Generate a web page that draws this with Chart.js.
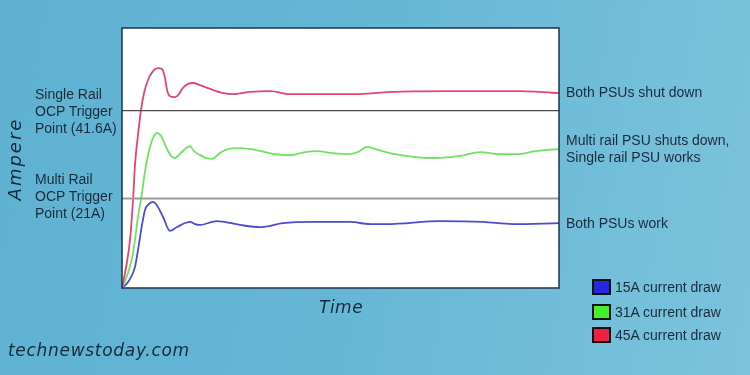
<!DOCTYPE html>
<html><head><meta charset="utf-8">
<script src="https://cdn.jsdelivr.net/npm/chart.js@4/dist/chart.umd.min.js"></script>
<style>
html,body{margin:0;padding:0;}
body{width:750px;height:375px;overflow:hidden;position:relative;
 background:linear-gradient(100deg,#5fb1d2 0%,#66b7d6 50%,#7cc3dc 100%);}
#wrap{position:absolute;left:0;top:0;width:750px;height:375px;}
.lbl{position:absolute;font-family:"Liberation Sans",Arial,sans-serif;font-size:14px;color:#1b2b3a;line-height:17px;white-space:nowrap;}
.it{position:absolute;font-family:"DejaVu Sans",sans-serif;font-style:italic;color:#17293a;white-space:nowrap;line-height:20px;}
.leg{position:absolute;left:592px;font-family:"Liberation Sans",Arial,sans-serif;font-size:14px;color:#1b2b3a;white-space:nowrap;}
.leg span.box{position:absolute;left:0;top:0;width:15px;height:12px;border:2px solid #111;}
.leg span.t{position:absolute;left:23px;top:0px;line-height:16px;}
</style></head>
<body>
<div id="wrap"><canvas id="c" width="750" height="375"></canvas></div>
<script>
// Time (0-100, arbitrary) and current (A)
const redT   = [0,1.14,1.83,2.52,2.97,3.66,4.35,5.03,5.95,7.09,8.24,9.15,9.84,10.3,10.98,12.13,13.04,13.73,15.1,16.25,17.85,20.14,22.88,25.86,29.29,33.87,38.44,45.31,54.46,61.33,75.06,91.08,95.65,100];
const redA   = [0,6.1,11.3,20.6,28.9,35.9,41.8,45.7,48.8,50.9,51.6,51.4,49.3,46.5,45.0,44.8,45.5,46.7,47.9,48.1,47.6,46.7,45.8,45.5,46.0,46.2,45.5,45.5,45.5,46.0,46.2,46.2,46.0,45.7];
const greenT = [0,1.37,2.29,2.97,3.66,4.58,5.03,5.72,6.41,7.32,8.01,8.92,10.07,11.21,12.13,13.5,14.65,15.56,16.48,17.85,19.22,20.59,22.43,24.26,27.0,30.43,35.01,38.9,41.88,44.85,47.6,51.72,54.0,56.06,58.58,62.47,67.05,71.62,77.35,81.92,86.5,90.39,94.51,100];
const greenA = [0,3.5,7.0,11.3,16.7,22.3,25.8,30.0,33.1,35.7,36.4,35.7,33.1,31.0,30.5,31.7,32.8,33.3,32.1,31.2,30.5,30.3,31.7,32.6,32.8,32.4,31.4,31.2,31.9,32.1,31.7,31.4,31.9,33.1,32.4,31.4,30.7,30.5,31.0,31.9,31.4,31.4,32.1,32.6];
const blueT  = [0,1.37,2.97,3.66,4.58,5.26,5.95,7.09,7.78,9.38,10.98,12.59,15.56,16.7,17.85,21.74,27.0,31.58,36.84,43.02,52.17,56.75,60.64,72.77,82.61,89.47,100];
const blueA  = [0,1.4,4.9,8.9,14.8,18.3,19.5,20.2,19.7,16.7,13.4,14.3,15.5,15.0,14.8,15.7,14.8,14.3,15.2,15.5,15.5,15.0,15.0,15.7,15.5,15.0,15.2];
const seriesNames = ["15A current draw","31A current draw","45A current draw"];
const legendColors = ["#2626e6","#44ef2c","#ef2040"];
const lineColors = ["#4b4bd2","#6ee35e","#e2456d"];
const singleRailOCP = 41.6;
const multiRailOCP = 21;
const leftLabels = [["Single Rail","OCP Trigger","Point (41.6A)"],["Multi Rail","OCP Trigger","Point (21A)"]];
const rightLabels = [["Both PSUs shut down"],["Multi rail PSU shuts down,","Single rail PSU works"],["Both PSUs work"]];

function pts(t,a){return t.map((x,i)=>({x:x,y:a[i]}));}

const frame = {
  id:'frame',
  beforeDatasetsDraw(ch){
    const {ctx,chartArea:a}=ch;
    ctx.save();ctx.fillStyle='#ffffff';ctx.fillRect(a.left,a.top,a.right-a.left,a.bottom-a.top);ctx.restore();
  },
  afterDraw(ch){
    const {ctx,chartArea:a}=ch;
    ctx.save();ctx.strokeStyle='#1e3546';ctx.lineWidth=1.5;
    ctx.strokeRect(a.left,a.top,a.right-a.left,a.bottom-a.top);ctx.restore();
  }
};

new Chart(document.getElementById('c'),{
  type:'line',
  data:{datasets:[
    {label:'single',data:[{x:0,y:singleRailOCP},{x:100,y:singleRailOCP}],borderColor:'#4a4a4a',borderWidth:1.2,pointRadius:0,tension:0},
    {label:'multi',data:[{x:0,y:multiRailOCP},{x:100,y:multiRailOCP}],borderColor:'#9a9a9a',borderWidth:2,pointRadius:0,tension:0},
    {label:seriesNames[2],data:pts(redT,redA),borderColor:lineColors[2],borderWidth:1.8,pointRadius:0,cubicInterpolationMode:'monotone'},
    {label:seriesNames[1],data:pts(greenT,greenA),borderColor:lineColors[1],borderWidth:1.8,pointRadius:0,cubicInterpolationMode:'monotone'},
    {label:seriesNames[0],data:pts(blueT,blueA),borderColor:lineColors[0],borderWidth:1.8,pointRadius:0,cubicInterpolationMode:'monotone'}
  ]},
  options:{
    responsive:false,animation:false,
    layout:{padding:{left:122,top:28,right:191,bottom:87}},
    plugins:{legend:{display:false},tooltip:{enabled:false}},
    scales:{
      x:{type:'linear',min:0,max:100,display:false},
      y:{min:0,max:61,display:false}
    }
  },
  plugins:[frame]
});

// HTML text
const W=document.getElementById('wrap');
function add(cls,txt,css){const d=document.createElement('div');d.className=cls;d.innerHTML=txt;Object.assign(d.style,css);W.appendChild(d);return d;}
add('lbl',leftLabels[0].join('<br>'),{left:'35px',top:'86px'});
add('lbl',leftLabels[1].join('<br>'),{left:'35px',top:'171px'});
add('lbl',rightLabels[0].join('<br>'),{left:'566px',top:'84px'});
add('lbl',rightLabels[1].join('<br>'),{left:'566px',top:'132px'});
add('lbl',rightLabels[2].join('<br>'),{left:'566px',top:'215px'});
add('it','Time',{left:'319px',top:'297px',fontSize:'17px',letterSpacing:'0.5px'});
add('it','technewstoday.com',{left:'8px',top:'340px',fontSize:'17px',letterSpacing:'0.7px'});
add('it','Ampere',{left:'15px',top:'159px',fontSize:'18px',letterSpacing:'2px',transform:'translate(-50%,-50%) rotate(-90deg)'});
const legTops=[279,304,327];
[0,1,2].forEach(i=>{
  add('leg','<span class="box" style="background:'+legendColors[i]+'"></span><span class="t">'+seriesNames[i]+'</span>',{top:legTops[i]+'px'});
});
</script>
</body></html>
